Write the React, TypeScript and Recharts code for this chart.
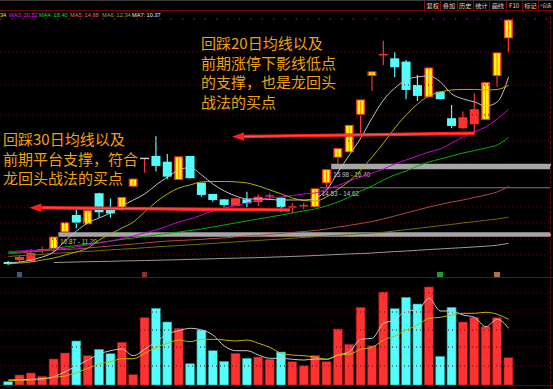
import React from "react";
import { Bar, ComposedChart, Line, ReferenceArea, ReferenceLine, XAxis, YAxis } from "recharts";

// daily candles (45 sessions)
const OPEN = [8.95, 9.1, 8.99, 9.84, 9.94, 11.2, 12.51, 11.81, 14.16, 13.04, 12.93, 14.66, 16.8, 16.99, 16.55, 15.17, 16.99, 14.96, 14.11, 13.7, 13.2, 13.7, 13.5, 13.93, 13.82, 13.09, 13.2, 13.1, 14.92, 16.86, 17.27, 20.1, 23.05, 24.62, 24.39, 24.14, 22.37, 21.44, 21.86, 19.85, 19.09, 19.39, 19.72, 23.05, 25.91];
const HIGH = [9.02, 9.48, 9.94, 10.13, 10.87, 11.96, 12.89, 12.89, 14.2, 13.76, 13.88, 15.27, 16.8, 18.48, 17.14, 16.96, 16.99, 14.96, 14.11, 13.7, 13.78, 14.28, 14.08, 14.16, 13.82, 13.4, 13.45, 14.53, 15.98, 17.58, 19.34, 21.27, 23.4, 25.73, 24.85, 24.27, 23.13, 23.69, 21.9, 20.85, 20.35, 21.74, 22.58, 24.84, 27.37];
const LOW = [8.72, 8.95, 8.95, 9.6, 9.71, 11.2, 11.5, 11.81, 12.31, 12.32, 12.82, 14.66, 15.72, 15.8, 15.22, 15.17, 15.3, 13.9, 13.52, 13.1, 13.2, 13.1, 13.2, 13.65, 12.76, 12.64, 12.95, 13.1, 14.62, 16.4, 17.27, 18.71, 21.94, 23.89, 22.95, 21.29, 21.16, 21.44, 21.25, 19.09, 19.05, 18.71, 19.72, 22.24, 24.82];
const CLOSE = [8.8, 9.33, 9.63, 9.88, 10.87, 11.96, 11.93, 12.89, 12.72, 12.63, 13.88, 15.27, 16.8, 16.23, 15.42, 16.96, 15.3, 14.03, 13.65, 13.27, 13.78, 13.4, 13.9, 13.96, 13.1, 13.12, 13.21, 14.53, 15.98, 17.58, 19.34, 21.27, 23.4, 24.66, 23.71, 21.99, 21.54, 23.69, 21.29, 19.26, 19.92, 20.53, 22.58, 24.84, 27.32];
// sessions drawn as limit-up (yellow) candles
const LIMIT_UP = [4, 5, 7, 10, 11, 15, 27, 28, 29, 30, 31, 32, 37, 42, 43, 44];

const MA1 = [8.87, 8.95, 9.1, 9.33, 9.71, 10.54, 11.3, 11.91, 12.29, 12.67, 13.2, 13.65, 14.11, 14.79, 15.39, 15.92, 16.11, 15.55, 14.86, 14.33, 13.95, 13.73, 13.73, 13.69, 13.65, 13.65, 13.65, 13.8, 14.41, 15.77, 17.06, 18.35, 19.87, 21.23, 22.14, 22.75, 22.98, 23.05, 22.6, 21.69, 21.31, 21.08, 20.78, 21.08, 22.98];
const MA2 = [8.8, 8.87, 8.95, 9.1, 9.25, 9.48, 9.71, 10.01, 10.62, 11.07, 11.53, 11.98, 12.74, 13.5, 14.11, 14.56, 14.79, 15.02, 15.05, 15.05, 15.02, 14.94, 14.71, 14.41, 14.11, 13.8, 13.61, 13.57, 13.88, 14.48, 15.09, 15.92, 16.91, 17.97, 19.11, 20.1, 20.93, 21.54, 21.84, 21.99, 22.03, 22.03, 21.99, 22.03, 22.34];
const MA3 = [9.75, 9.78, 9.82, 9.86, 9.94, 9.97, 10.09, 10.24, 10.39, 10.54, 10.73, 10.92, 11.15, 11.38, 11.68, 11.98, 12.21, 12.51, 12.82, 13.04, 13.23, 13.42, 13.65, 13.8, 13.88, 13.99, 14.11, 14.18, 14.48, 14.75, 15.09, 15.39, 15.7, 16.0, 16.38, 16.68, 16.99, 17.29, 17.52, 17.97, 18.43, 18.81, 19.19, 19.79, 20.52];
const MA4 = [9.63, 9.71, 9.78, 9.86, 9.97, 10.09, 10.2, 10.31, 10.43, 10.54, 10.66, 10.77, 10.88, 11.0, 11.11, 11.22, 11.34, 11.45, 11.6, 11.76, 11.91, 12.06, 12.21, 12.36, 12.51, 12.67, 12.82, 12.97, 13.2, 13.5, 13.88, 14.33, 14.71, 15.17, 15.55, 15.85, 16.23, 16.53, 16.76, 16.99, 17.21, 17.4, 17.59, 17.82, 18.4];
const MA5 = [9.6, 9.63, 9.71, 9.78, 9.86, 9.9, 9.94, 10.01, 10.09, 10.16, 10.24, 10.31, 10.39, 10.47, 10.54, 10.58, 10.62, 10.66, 10.73, 10.77, 10.85, 10.92, 10.96, 11.04, 11.11, 11.19, 11.26, 11.34, 11.45, 11.6, 11.72, 11.87, 12.02, 12.21, 12.44, 12.67, 12.89, 13.12, 13.31, 13.5, 13.65, 13.84, 14.03, 14.26, 14.68];
const MA6 = [9.37, 9.42, 9.48, 9.53, 9.6, 9.65, 9.71, 9.75, 9.81, 9.87, 9.92, 9.97, 10.03, 10.09, 10.14, 10.2, 10.25, 10.31, 10.36, 10.42, 10.47, 10.53, 10.58, 10.64, 10.69, 10.75, 10.81, 10.86, 10.92, 10.97, 11.03, 11.09, 11.14, 11.2, 11.3, 11.4, 11.5, 11.6, 11.7, 11.8, 11.91, 12.01, 12.11, 12.21, 12.34];
const MA7 = [null, null, null, null, 8.91, 8.93, 8.95, 8.97, 8.99, 9.0, 9.03, 9.04, 9.06, 9.08, 9.1, 9.12, 9.15, 9.17, 9.19, 9.22, 9.24, 9.26, 9.28, 9.31, 9.34, 9.37, 9.4, 9.44, 9.48, 9.52, 9.56, 9.59, 9.63, 9.69, 9.74, 9.78, 9.84, 9.89, 9.94, 9.99, 10.04, 10.09, 10.15, 10.22, 10.37];

const VOLUME = [3.3, 10, 12, 8.7, 26, 32, 44, 29.3, 35.7, 31.3, 42.7, 10.3, 67.3, 76.7, 63, 56.7, 21.3, 55, 34.3, 23.7, 31.7, 26.7, 28, 25.7, 33, 23.3, 19.3, 29.7, 23.3, 56, 40.7, 77.7, 39.3, 93, 76.3, 87.7, 81, 98, 28.7, 77.7, 63, 67.7, 58.3, 67.3, 27.3];
const VOL_MA5 = [5, 5.3, 5.7, 6.3, 8.3, 13.3, 19, 25, 31, 34.3, 36, 29.3, 35.7, 43.3, 51, 54.3, 56.7, 55, 50, 39, 34.3, 34.3, 30, 26.7, 26.7, 25.7, 25, 26, 25.7, 30, 33.3, 45.7, 46.7, 61.7, 65, 74.3, 75, 86.7, 74, 74, 70, 67.7, 58.3, 65.7, 56.7];
const VOL_MA10 = [4.3, 4.7, 5, 5.7, 7.7, 9, 12.3, 16.7, 21, 23.3, 26.3, 26.3, 31.7, 37.7, 41.7, 45, 43.3, 45.7, 45.7, 45, 44, 45, 41.7, 37.7, 31.7, 30, 29.3, 27.7, 25.7, 30, 30.7, 35.7, 37.7, 45, 49, 55, 60, 66.7, 67.7, 70, 71.7, 71.7, 72.7, 70.7, 65.7];

// price gaps left open (day the gap opened, lower / upper edge)
const GAPS = [
  { day: 5, from: 10.87, to: 11.2 },
  { day: 28, from: 14.53, to: 14.62 },
  { day: 29, from: 15.98, to: 16.4 },
];

const ARROWS = [
  { fromDay: 41, fromPrice: 18.71, toDay: 19.67, toPrice: 18.45 },
  { fromDay: 24.78, fromPrice: 12.89, toDay: 1.85, toPrice: 13.07 },
];

const GRID_PRICES = [24.87, 22.37, 20.1, 18.12, 13.12, 11.91, 10.69, 9.48];
const VOL_GRID = [92, 73, 55, 38, 19];

const LEGEND = [
  { text: "34", color: "#e8e800", left: 0 },
  { text: "MA3: 20.52", color: "#ff00ff", left: 9 },
  { text: "MA4: 18.40", color: "#00e000", left: 39 },
  { text: "MA5: 14.68", color: "#e86868", left: 70 },
  { text: "MA6: 12.34", color: "#a0a040", left: 102 },
  { text: "MA7: 10.37", color: "#e8e8e8", left: 132 },
];
const TOOLBAR = ["复权", "叠加", "历史", "统计", "画线", "F10", "标记", "+自选"];

const NOTE_RIGHT = ["回踩20日均线以及", "前期涨停下影线低点", "的支撑，也是龙回头", "战法的买点"];
const NOTE_LEFT = ["回踩30日均线以及", "前期平台支撑，符合", "龙回头战法的买点"];

const X_DOMAIN: [number, number] = [-0.73, 47.73];
const PRICE_DOMAIN: [number, number] = [8.19, 27.37];

const RED = "#ff3232";
const CYAN = "#54fcfc";
const YELLOW = "#ffff00";
const ORANGE = "#f0a010";

const candles = OPEN.map((open, i) => ({
  i,
  open,
  high: HIGH[i],
  low: LOW[i],
  close: CLOSE[i],
  limit: LIMIT_UP.includes(i),
  ma1: MA1[i],
  ma2: MA2[i],
  ma3: MA3[i],
  ma4: MA4[i],
  ma5: MA5[i],
  ma6: MA6[i],
  ma7: MA7[i],
  volume: VOLUME[i],
  volMa5: VOL_MA5[i],
  volMa10: VOL_MA10[i],
}));

function Candle(props: any) {
  const { x, y, width, height, payload } = props;
  if (!payload || x == null || y == null) return <g />;
  const top = Math.min(y, y + height);
  const h = Math.abs(height);
  const span = payload.high - payload.low;
  const yOf = (v: number) => (span > 0 ? top + ((payload.high - v) / span) * h : top);
  const cx = x + width / 2;
  const yO = yOf(payload.open);
  const yC = yOf(payload.close);
  const bTop = Math.min(yO, yC);
  const bH = Math.abs(yO - yC);
  const up = payload.close >= payload.open;

  if (payload.limit) {
    const inner = Math.max(bH - 2, 0);
    return (
      <g>
        <line x1={cx} x2={cx} y1={top} y2={top + h} stroke={RED} strokeWidth={1.2} />
        <rect x={x} y={bTop} width={width} height={Math.max(bH, 1)} fill={RED} />
        <rect x={x + 1.5} y={bTop + 1} width={width - 3} height={inner} fill={YELLOW} />
        <rect x={cx - 0.5} y={bTop + 1} width={1} height={inner} fill="#ff7a20" />
      </g>
    );
  }
  const color = up ? RED : CYAN;
  if (bH < 1) {
    return (
      <g>
        <line x1={cx} x2={cx} y1={top} y2={top + h} stroke={RED} strokeWidth={1.2} />
        <line
          x1={x}
          x2={x + width}
          y1={yC}
          y2={yC}
          stroke={payload.close === payload.open ? "#d0d0d0" : RED}
          strokeWidth={1.4}
        />
      </g>
    );
  }
  return (
    <g>
      <line x1={cx} x2={cx} y1={top} y2={top + h} stroke={color} strokeWidth={1.2} />
      <rect x={x} y={bTop} width={width} height={bH} fill={color} />
    </g>
  );
}

function VolumeBar(props: any) {
  const { x, y, width, height, payload } = props;
  if (!payload || x == null) return <g />;
  const up = payload.close >= payload.open;
  return (
    <rect
      x={x}
      y={Math.min(y, y + height)}
      width={width}
      height={Math.abs(height)}
      fill={up ? RED : CYAN}
      stroke={up ? "#9a1010" : "#208c8c"}
      strokeWidth={0.6}
    />
  );
}

function Arrow(props: any) {
  const { x1, y1, x2, y2 } = props;
  if (x1 == null) return <g />;
  const len = Math.hypot(x2 - x1, y2 - y1) || 1;
  const ux = (x2 - x1) / len;
  const uy = (y2 - y1) / len;
  const bx = x2 - ux * 12;
  const by = y2 - uy * 12;
  const head = `${x2},${y2} ${bx - uy * 4.2},${by + ux * 4.2} ${bx + uy * 4.2},${by - ux * 4.2}`;
  return (
    <g>
      <line x1={x1} y1={y1} x2={bx} y2={by} stroke="#ff1e1e" strokeWidth={3.4} />
      <line x1={x1} y1={y1} x2={bx} y2={by} stroke="#ff6a6a" strokeWidth={0.8} />
      <polygon points={head} fill="#ff1e1e" />
    </g>
  );
}

function gapLabel(text: string) {
  return (p: any) => {
    const vb = p.viewBox;
    if (!vb) return null;
    return (
      <text x={vb.x + 2} y={vb.y + vb.height + 7.5} fill="#c4c4c4" fontSize={6.3} fontFamily="Liberation Sans">
        {text}
      </text>
    );
  };
}

const maLines = [
  { key: "ma7", color: "#9a9a9a" },
  { key: "ma6", color: "#6e6e10" },
  { key: "ma5", color: "#b04848" },
  { key: "ma4", color: "#00b000" },
  { key: "ma3", color: "#d000d0" },
  { key: "ma2", color: "#b0b000" },
  { key: "ma1", color: "#c0c0c0" },
];

export default function App() {
  return (
    <div style={{ position: "relative", width: 553, height: 389, background: "#000", overflow: "hidden" }}>
      <style>{`body{margin:0;background:#000}`}</style>

      <div style={{ position: "absolute", left: 0, top: 0, width: 553, height: 1, background: "#3a3a3a" }} />
      <div style={{ position: "absolute", left: 0, top: 10, width: 553, height: 1, background: "#6e0808" }} />
      {TOOLBAR.map((t, k) => (
        <div
          key={t}
          style={{
            position: "absolute",
            left: 424 + k * 16.3,
            top: 1,
            width: k === TOOLBAR.length - 1 ? 14 : 16.3,
            height: 9,
            boxSizing: "border-box",
            borderLeft: "1px solid #8a0c0c",
            color: "#e4d4d4",
            fontSize: k === TOOLBAR.length - 1 ? 4.6 : 6.2,
            lineHeight: "9px",
            textAlign: "center",
            fontFamily: '"Noto Sans CJK SC"',
            whiteSpace: "nowrap",
            overflow: "hidden",
          }}
        >
          {t}
        </div>
      ))}

      {LEGEND.map((l) => (
        <div
          key={l.text}
          style={{
            position: "absolute",
            left: l.left,
            top: 10.5,
            fontSize: 5.6,
            lineHeight: "8px",
            color: l.color,
            fontFamily: "Liberation Sans",
            whiteSpace: "nowrap",
          }}
        >
          {l.text}
        </div>
      ))}

      <div style={{ position: "absolute", left: 0, top: 0 }}>
        <ComposedChart width={553} height={272} data={candles} margin={{ top: 19, right: 2, bottom: 0, left: 0 }}>
          <XAxis type="number" dataKey="i" domain={X_DOMAIN} hide allowDataOverflow />
          <YAxis type="number" domain={PRICE_DOMAIN} hide allowDataOverflow />
          {GRID_PRICES.map((p) => (
            <ReferenceLine key={p} y={p} stroke="#5a0808" strokeDasharray="1 3" />
          ))}
          <ReferenceLine y={PRICE_DOMAIN[1]} stroke="#c000c0" strokeDasharray="1.5 9.87" />
          <Bar dataKey={(d: any) => [d.low, d.high]} barSize={9} shape={Candle} isAnimationActive={false} />
          {maLines.map((m) => (
            <Line
              key={m.key}
              type="monotone"
              dataKey={m.key}
              stroke={m.color}
              strokeWidth={1}
              dot={false}
              isAnimationActive={false}
            />
          ))}
          {GAPS.map((g) => (
            <ReferenceArea
              key={g.from}
              x1={g.day - 0.6}
              x2={X_DOMAIN[1]}
              y1={g.from}
              y2={g.to}
              fill={g.to - g.from < 0.2 ? "#7c7c7c" : "#a6a6a6"}
              fillOpacity={1}
              label={gapLabel(`${g.from.toFixed(2)} - ${g.to.toFixed(2)}`)}
            />
          ))}
          {ARROWS.map((a) => (
            <ReferenceLine
              key={a.fromDay}
              segment={[
                { x: a.fromDay, y: a.fromPrice },
                { x: a.toDay, y: a.toPrice },
              ]}
              shape={Arrow}
            />
          ))}
        </ComposedChart>
      </div>

      {/* event markers above the volume pane */}
      <div style={{ position: "absolute", left: 17, top: 272, width: 5, height: 5, background: "#3c5a86" }} />
      <div style={{ position: "absolute", left: 142, top: 272, width: 5, height: 5, background: "#8a3030" }} />
      <div style={{ position: "absolute", left: 437, top: 272, width: 6, height: 5, background: "#20a030" }} />
      <div style={{ position: "absolute", left: 494, top: 272, width: 6, height: 5, background: "#b07050" }} />

      <div style={{ position: "absolute", left: 0, top: 277, width: 553, height: 1, background: "#7a0808" }} />

      <div style={{ position: "absolute", left: 0, top: 278 }}>
        <ComposedChart width={553} height={107} data={candles} margin={{ top: 2, right: 2, bottom: 0, left: 0 }}>
          <XAxis type="number" dataKey="i" domain={X_DOMAIN} hide allowDataOverflow />
          <YAxis type="number" domain={[0, 105]} hide allowDataOverflow />
          {VOL_GRID.map((v) => (
            <ReferenceLine key={v} y={v} stroke="#5a0808" strokeDasharray="1 3" />
          ))}
          <Bar dataKey="volume" barSize={9} shape={VolumeBar} isAnimationActive={false} />
          <Line type="monotone" dataKey="volMa5" stroke="#c8c8c8" strokeWidth={1} dot={false} isAnimationActive={false} />
          <Line type="monotone" dataKey="volMa10" stroke="#c8b400" strokeWidth={1} dot={false} isAnimationActive={false} />
        </ComposedChart>
      </div>

      <div style={{ position: "absolute", left: 0, top: 385, width: 553, height: 1, background: "#6a0606" }} />
      <div style={{ position: "absolute", left: 550, top: 11, width: 0, height: 378, borderLeft: "1px dashed #6a0808" }} />

      <div
        style={{
          position: "absolute",
          left: 201,
          top: 33,
          fontSize: 15,
          lineHeight: "19.5px",
          color: ORANGE,
          fontFamily: '"Noto Sans CJK SC"',
          whiteSpace: "nowrap",
        }}
      >
        {NOTE_RIGHT.map((t) => (
          <div key={t}>{t}</div>
        ))}
      </div>
      <div
        style={{
          position: "absolute",
          left: 3,
          top: 129,
          fontSize: 15,
          lineHeight: "19.5px",
          color: ORANGE,
          fontFamily: '"Noto Sans CJK SC"',
          whiteSpace: "nowrap",
        }}
      >
        {NOTE_LEFT.map((t) => (
          <div key={t}>{t}</div>
        ))}
      </div>
    </div>
  );
}
